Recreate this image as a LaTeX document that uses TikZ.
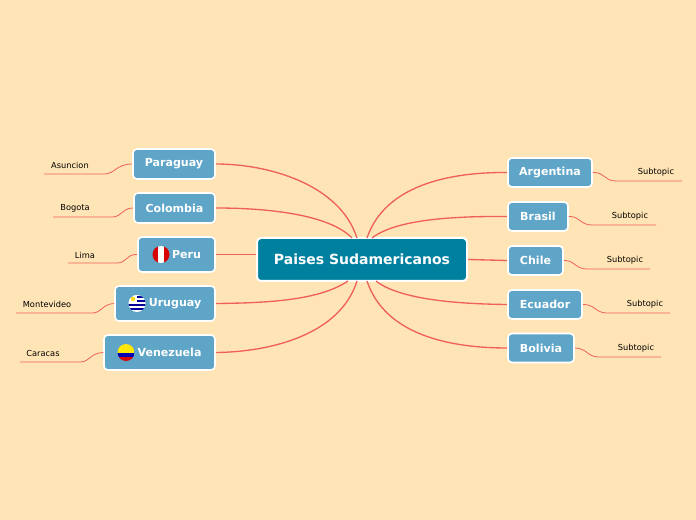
\documentclass[tikz,border=0pt]{standalone}
\usepackage{fontspec}
\setmainfont{DejaVu Sans}
\begin{document}
\begin{tikzpicture}[x=0.75pt,y=-0.75pt,
  main/.style={draw=white,line width=1.5pt,fill=maincol,rounded corners=3pt,text=white,font=\bfseries\fontsize{10.5}{12}\selectfont,inner sep=0pt},
  topic/.style={draw=white,line width=1.2pt,fill=topcol,rounded corners=3pt,text=white,font=\bfseries\fontsize{8.3}{10}\selectfont,inner sep=0pt},
  lab/.style={font=\fontsize{6.2}{8}\selectfont,text=black,inner sep=0pt},
  con/.style={draw=linecol,line width=1pt},
  sub/.style={draw=linecol,line width=0.6pt},
  sz/.style 2 args={minimum width={#1*0.75pt},minimum height={#2*0.75pt}}]
\definecolor{bg}{HTML}{FFE5B6}
\definecolor{maincol}{HTML}{00809F}
\definecolor{topcol}{HTML}{5EA5C8}
\definecolor{linecol}{HTML}{F0605A}
\fill[bg] (0,0) rectangle (696,520);
\useasboundingbox (0,0) rectangle (696,520);
\node[main,sz={210}{43}] (c) at (362,259.5) {Paises Sudamericanos};
% left
\node[topic,sz={82}{30}] (pa) at (174,164) {Paraguay};
\node[topic,sz={81}{30}] (co) at (174.5,208) {Colombia};
\node[topic,sz={77}{35}] (pe) at (176.5,254.5) {\hspace*{15pt}Peru};
\node[topic,sz={100}{35}] (ur) at (165,303.5) {\hspace*{15pt}Uruguay};
\node[topic,sz={111}{35}] (ve) at (159.5,352.5) {\hspace*{15pt}Venezuela};
% right
\node[topic,sz={84}{29}] (ar) at (550,172.5) {Argentina};
\node[topic,sz={60}{29}] (br) at (538,216.5) {Brasil};
\node[topic,sz={55}{29}] (ch) at (535.5,260.5) {Chile};
\node[topic,sz={74}{29}] (ec) at (545,304.5) {Ecuador};
\node[topic,sz={66}{29}] (bo) at (541,348) {Bolivia};
% flags
\begin{scope}
\clip (161,254.5) circle (8.5);
\fill[red!85!black] (152,246) rectangle (158,263);
\fill[white] (158,246) rectangle (164,263);
\fill[red!85!black] (164,246) rectangle (170,263);
\end{scope}
\begin{scope}
\clip (137,303.5) circle (8.5);
\fill[white] (128,295) rectangle (146,312);
\foreach \k in {0,2,4,6,8}{\fill[blue!60!black] (128,296.5+2*\k) rectangle (146,297.7+2*\k);}
\fill[white] (128,295) rectangle (137,303);
\fill[yellow!80!orange] (133,299) circle (2.2);
\end{scope}
\begin{scope}
\clip (126,352.5) circle (8.5);
\fill[yellow!90!orange] (117,344) rectangle (135,353);
\fill[blue!70!black] (117,353) rectangle (135,357);
\fill[red!85!black] (117,357) rectangle (135,361);
\end{scope}
% connectors
\draw[con] (357,238) .. controls (340,185) and (270,164) .. (pa.east);
\draw[con] (352,238) .. controls (330,215) and (270,208) .. (co.east);
\draw[con] (c.west |- pe.east) -- (pe.east);
\draw[con] (348,281) .. controls (320,300) and (270,303) .. (ur.east);
\draw[con] (357,281) .. controls (340,335) and (270,352) .. (ve.east);
\draw[con] (367,238) .. controls (385,185) and (450,172) .. (ar.west);
\draw[con] (372,238) .. controls (395,220) and (450,216) .. (br.west);
\draw[con] (c.east) -- (ch.west);
\draw[con] (376,281) .. controls (400,300) and (460,304) .. (ec.west);
\draw[con] (367,281) .. controls (385,335) and (450,348) .. (bo.west);
% sub labels left
\coordinate (a1) at (44,174); \coordinate (b1) at (53,217); \coordinate (l1) at (68,263);
\coordinate (m1) at (16,313); \coordinate (k1) at (20,362);
\draw[sub] (pa.west) .. controls (116,164) and (115,174) .. (104,174) -- (a1);
\draw[sub] (co.west) .. controls (122,208) and (122,217) .. (112,217) -- (b1);
\draw[sub] (pe.west) .. controls (126,254) and (127,263) .. (117,263) -- (l1);
\draw[sub] (ur.west) .. controls (102,304) and (102,313) .. (92,313) -- (m1);
\draw[sub] (ve.west) .. controls (90,353) and (90,362) .. (80,362) -- (k1);
\node[lab] (ta) at (70,165) {Asuncion};
\node[lab] (tb) at (75,208) {Bogota};
\node[lab] (tl) at (85,255) {Lima};
\node[lab] (tm) at (47,304) {Montevideo};
\node[lab] (tk) at (43,353) {Caracas};
% sub labels right
\coordinate (a2) at (682,181); \coordinate (b2) at (656,225); \coordinate (c2) at (650,269);
\coordinate (e2) at (670,313); \coordinate (o2) at (661,357);
\draw[sub] (ar.east) .. controls (605,172) and (604,181) .. (616,181) -- (a2);
\draw[sub] (br.east) .. controls (580,216) and (580,225) .. (592,225) -- (b2);
\draw[sub] (ch.east) .. controls (575,260) and (575,269) .. (587,269) -- (c2);
\draw[sub] (ec.east) .. controls (595,304) and (595,313) .. (607,313) -- (e2);
\draw[sub] (bo.east) .. controls (587,348) and (587,357) .. (599,357) -- (o2);
\node[lab] (s1) at (656,172) {Subtopic};
\node[lab] (s2) at (630,216) {Subtopic};
\node[lab] (s3) at (625,260) {Subtopic};
\node[lab] (s4) at (645,304) {Subtopic};
\node[lab] (s5) at (636,348) {Subtopic};
\end{tikzpicture}
\end{document}
